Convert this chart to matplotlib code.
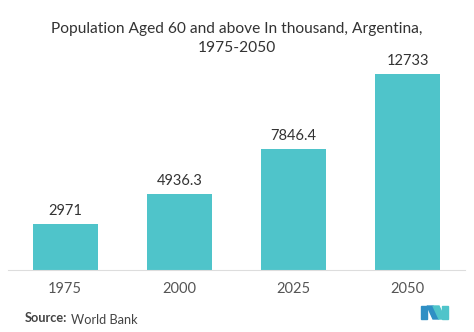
import matplotlib.pyplot as plt
from matplotlib.patches import Polygon

years = ['1975', '2000', '2025', '2050']
values = [2971, 4936.3, 7846.4, 12733]
value_labels = ['2971', '4936.3', '7846.4', '12733']

plt.rcParams['font.family'] = ['Lato', 'DejaVu Sans']

fig = plt.figure(figsize=(4.74, 3.32), dpi=100)
ax = fig.add_axes([0.017, 0.187, 0.964, 0.663])

x = range(len(years))
ax.bar(x, values, width=0.57, color='#4fc4ca')
for xi, v, lab in zip(x, values, value_labels):
    ax.text(xi, v + 400, lab, ha='center', va='bottom', fontsize=10.5, color='#333333')

ax.set_xlim(-0.5, 3.5)
ax.set_ylim(0, 14300)
ax.set_xticks(list(x))
ax.set_xticklabels(years, fontsize=10.5, color='#555555')
ax.tick_params(axis='x', length=0, pad=9)
ax.set_yticks([])
for s in ['top', 'right', 'left']:
    ax.spines[s].set_visible(False)
ax.spines['bottom'].set_color('#dddddd')

fig.text(0.5, 0.883, 'Population Aged 60 and above In thousand, Argentina,\n1975-2050',
         ha='center', va='center', fontsize=11.2, color='#333333', linespacing=1.45)

# source line: bold label followed by plain text
src = fig.text(0.053, 0.03, 'Source:', fontsize=9.2, fontweight='bold', color='#444444')
ax.annotate('World Bank', xy=(1, 0), xycoords=src, xytext=(2.5, 0),
            textcoords='offset points', fontsize=9.2, color='#444444',
            annotation_clip=False)

# logo
logo = [
    ([(421, 319), (427, 319), (427, 306), (421, 306)], '#2f8fc4'),
    ([(427, 306), (433, 306), (439, 319), (433, 319)], '#2f8fc4'),
    ([(433, 306), (439, 306), (445, 319), (439, 319)], '#4fc4ca'),
    ([(442, 306), (448, 306), (448, 319), (442, 319)], '#4fc4ca'),
]
for pts, c in logo:
    fig.patches.append(Polygon([(px / 474, 1 - py / 332) for px, py in pts],
                               closed=True, transform=fig.transFigure, color=c))

fig.savefig('out.png', dpi=100)
